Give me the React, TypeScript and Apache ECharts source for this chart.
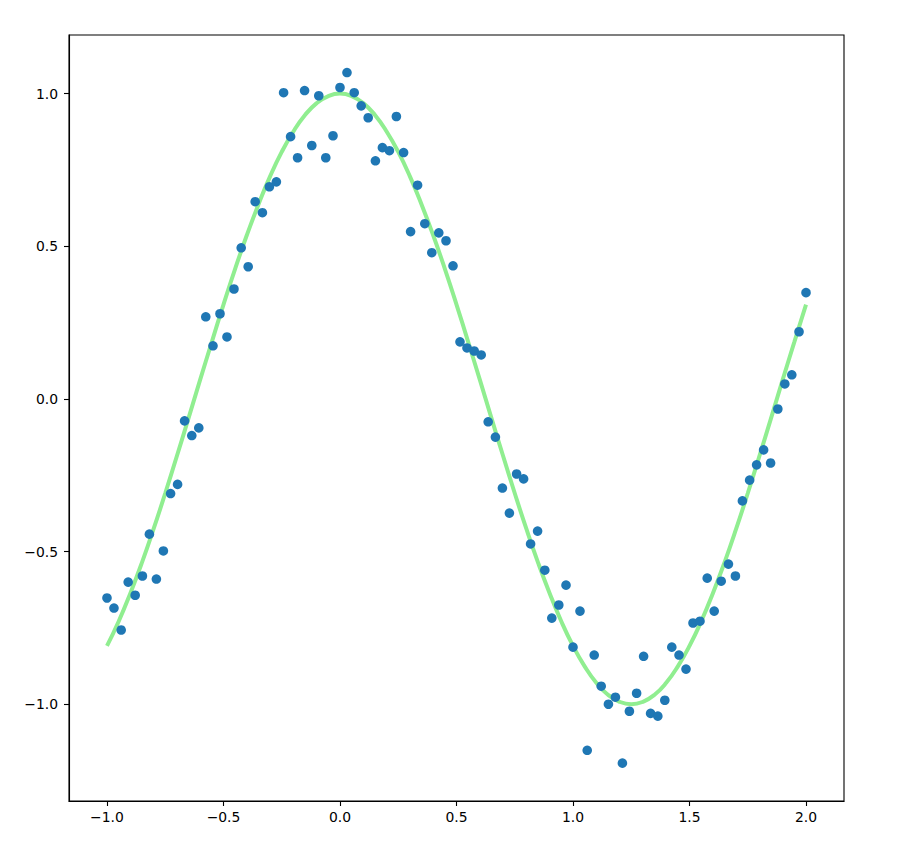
import React, { useEffect, useRef } from "react";
import * as echarts from "echarts";

const scatterX = [
  -1.0, -0.97, -0.939, -0.909, -0.879, -0.848, -0.818, -0.788, -0.758, -0.727,
  -0.697, -0.667, -0.636, -0.606, -0.576, -0.545, -0.515, -0.485, -0.455, -0.424,
  -0.394, -0.364, -0.333, -0.303, -0.273, -0.242, -0.212, -0.182, -0.152, -0.121,
  -0.091, -0.061, -0.03, 0.0, 0.03, 0.061, 0.091, 0.121, 0.152, 0.182,
  0.212, 0.242, 0.273, 0.303, 0.333, 0.364, 0.394, 0.424, 0.455, 0.485,
  0.515, 0.545, 0.576, 0.606, 0.636, 0.667, 0.697, 0.727, 0.758, 0.788,
  0.818, 0.848, 0.879, 0.909, 0.939, 0.97, 1.0, 1.03, 1.061, 1.091,
  1.121, 1.152, 1.182, 1.212, 1.242, 1.273, 1.303, 1.333, 1.364, 1.394,
  1.424, 1.455, 1.485, 1.515, 1.545, 1.576, 1.606, 1.636, 1.667, 1.697,
  1.727, 1.758, 1.788, 1.818, 1.848, 1.879, 1.909, 1.939, 1.97, 2.0,
];

const scatterY = [
  -0.652, -0.685, -0.757, -0.6, -0.643, -0.58, -0.443, -0.59, -0.498, -0.31,
  -0.28, -0.072, -0.12, -0.095, 0.269, 0.174, 0.279, 0.203, 0.36, 0.495,
  0.433, 0.646, 0.61, 0.695, 0.711, 1.003, 0.859, 0.79, 1.01, 0.83,
  0.993, 0.79, 0.862, 1.02, 1.069, 1.003, 0.96, 0.921, 0.78, 0.823,
  0.813, 0.925, 0.807, 0.548, 0.7, 0.574, 0.479, 0.544, 0.518, 0.436,
  0.187, 0.167, 0.157, 0.144, -0.075, -0.125, -0.292, -0.374, -0.246, -0.262,
  -0.475, -0.433, -0.561, -0.718, -0.675, -0.61, -0.813, -0.695, -1.151, -0.839,
  -0.941, -1.0, -0.977, -1.193, -1.023, -0.964, -0.843, -1.03, -1.039, -0.987,
  -0.813, -0.839, -0.885, -0.734, -0.728, -0.587, -0.695, -0.597, -0.541, -0.58,
  -0.334, -0.266, -0.216, -0.167, -0.21, -0.033, 0.049, 0.079, 0.22, 0.348,
];

const curveX = [
  -1.0, -0.95, -0.9, -0.85, -0.8, -0.75, -0.7, -0.65, -0.6, -0.55,
  -0.5, -0.45, -0.4, -0.35, -0.3, -0.25, -0.2, -0.15, -0.1, -0.05,
  0.0, 0.05, 0.1, 0.15, 0.2, 0.25, 0.3, 0.35, 0.4, 0.45,
  0.5, 0.55, 0.6, 0.65, 0.7, 0.75, 0.8, 0.85, 0.9, 0.95,
  1.0, 1.05, 1.1, 1.15, 1.2, 1.25, 1.3, 1.35, 1.4, 1.45,
  1.5, 1.55, 1.6, 1.65, 1.7, 1.75, 1.8, 1.85, 1.9, 1.95, 2.0,
];

const curveY = [
  -0.809, -0.729, -0.637, -0.536, -0.426, -0.309, -0.187, -0.063, 0.063, 0.187,
  0.309, 0.426, 0.536, 0.637, 0.729, 0.809, 0.876, 0.93, 0.969, 0.992,
  1.0, 0.992, 0.969, 0.93, 0.876, 0.809, 0.729, 0.637, 0.536, 0.426,
  0.309, 0.187, 0.063, -0.063, -0.187, -0.309, -0.426, -0.536, -0.637, -0.729,
  -0.809, -0.876, -0.93, -0.969, -0.992, -1.0, -0.992, -0.969, -0.93, -0.876,
  -0.809, -0.729, -0.637, -0.536, -0.426, -0.309, -0.187, -0.063, 0.063, 0.187, 0.309,
];

const xTicks = [-1.0, -0.5, 0.0, 0.5, 1.0, 1.5, 2.0];
const yTicks = [-1.0, -0.5, 0.0, 0.5, 1.0];

const fmt = (v: number) => (v < 0 ? "\u2212" : "") + Math.abs(v).toFixed(1);

export default function App() {
  const ref = useRef<HTMLDivElement>(null);
  useEffect(() => {
    if (!ref.current) return;
    const chart = echarts.init(ref.current, undefined, { renderer: "svg" });
    const axisCommon = {
      type: "value" as const,
      axisLine: { show: true, onZero: false, lineStyle: { color: "#000", width: 1.1 } },
      axisTick: { show: true, length: 5, lineStyle: { color: "#000", width: 1.1 } },
      splitLine: { show: false },
    };
    chart.setOption({
      animation: false,
      backgroundColor: "#fff",
      grid: {
        left: 69,
        right: 53,
        top: 35,
        bottom: 42,
        show: true,
        borderColor: "#000",
        borderWidth: 1.1,
        backgroundColor: "transparent",
      },
      xAxis: {
        ...axisCommon,
        min: -1.163,
        max: 2.163,
        axisTick: { ...axisCommon.axisTick, customValues: xTicks },
        axisLabel: {
          customValues: xTicks,
          formatter: fmt,
          color: "#000",
          fontFamily: "DejaVu Sans",
          fontSize: 13.9,
          margin: 9,
        },
      },
      yAxis: {
        ...axisCommon,
        min: -1.317,
        max: 1.192,
        axisTick: { ...axisCommon.axisTick, customValues: yTicks },
        axisLabel: {
          customValues: yTicks,
          formatter: fmt,
          color: "#000",
          fontFamily: "DejaVu Sans",
          fontSize: 13.9,
          margin: 11,
        },
      },
      series: [
        {
          type: "line",
          data: curveX.map((x, i) => [x, curveY[i]]),
          smooth: true,
          showSymbol: false,
          symbol: "none",
          lineStyle: { color: "#90EE90", width: 4 },
          z: 1,
        },
        {
          type: "scatter",
          data: scatterX.map((x, i) => [x, scatterY[i]]),
          symbol: "circle",
          symbolSize: 9.6,
          itemStyle: { color: "#1f77b4", opacity: 1 },
          z: 2,
        },
      ],
    });
    return () => chart.dispose();
  }, []);
  return (
    <div
      ref={ref}
      style={{ position: "fixed", left: 0, top: 0, width: 897, height: 843, background: "#fff" }}
    />
  );
}
